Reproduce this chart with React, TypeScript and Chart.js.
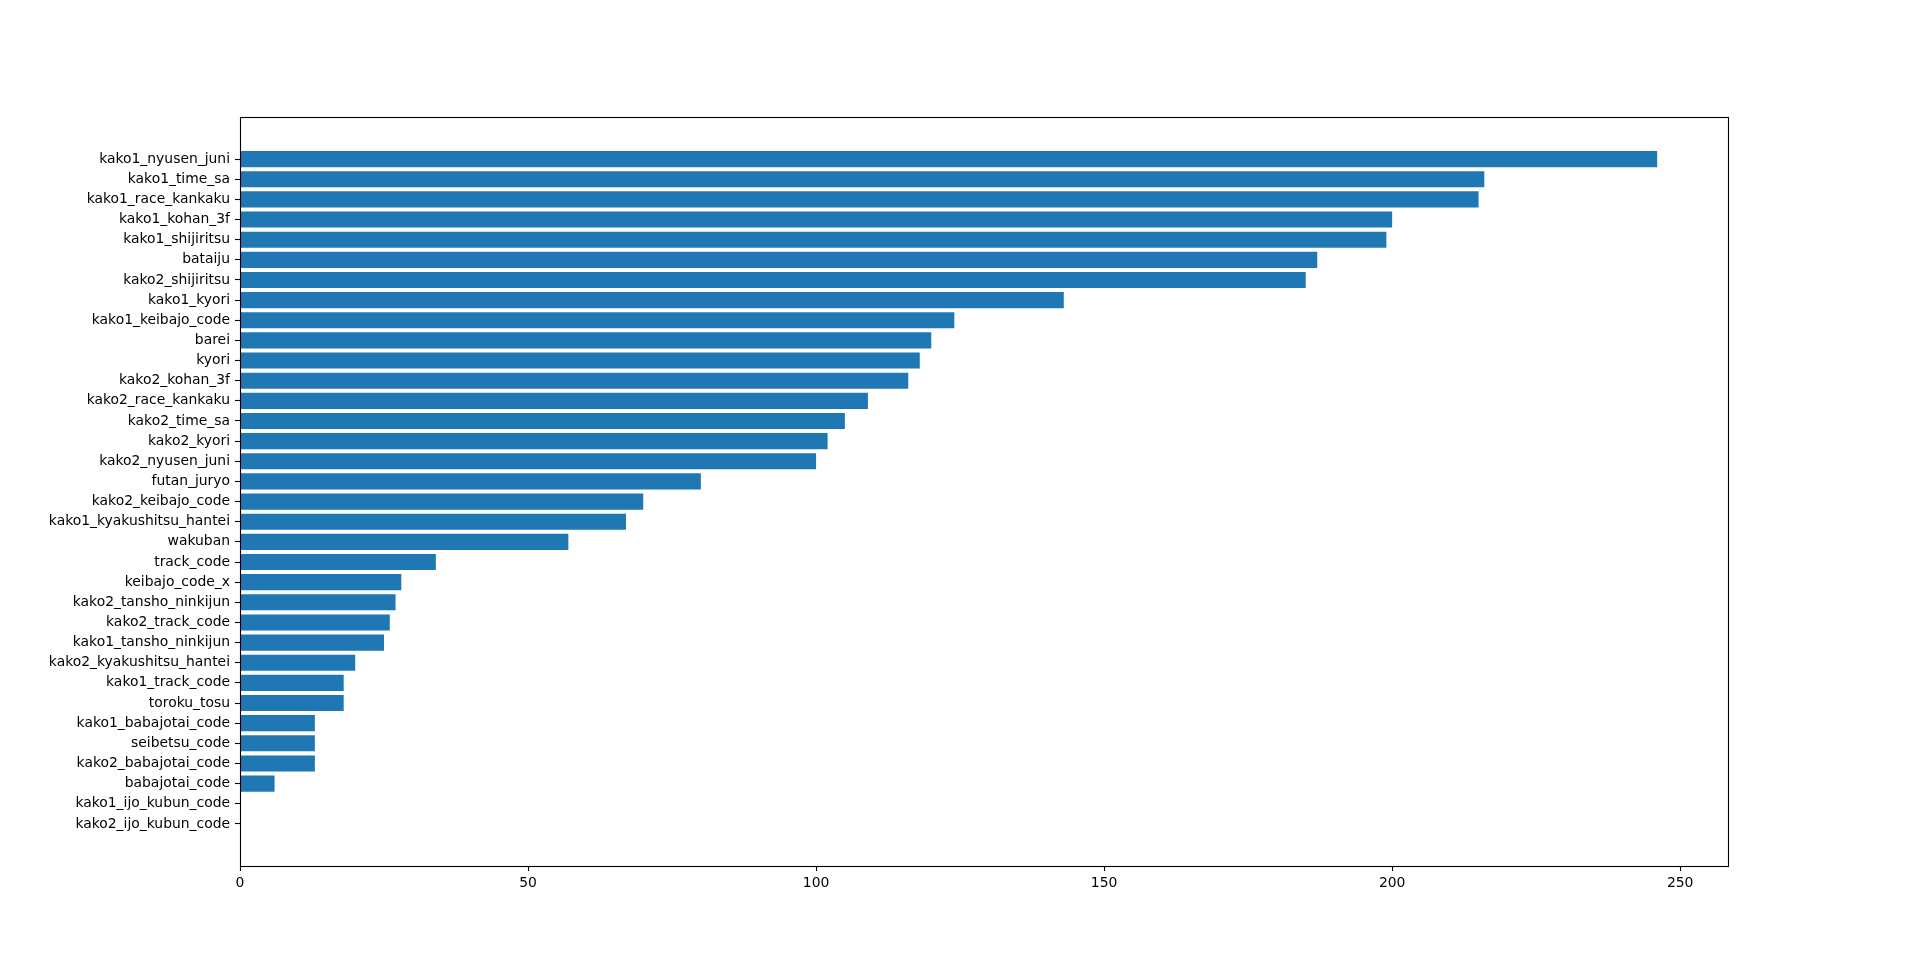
import { useEffect, useRef } from 'react';
import { Chart, registerables } from 'chart.js';

Chart.register(...registerables);

// feature names, top to bottom as shown
const features = [
  'kako1_nyusen_juni',
  'kako1_time_sa',
  'kako1_race_kankaku',
  'kako1_kohan_3f',
  'kako1_shijiritsu',
  'bataiju',
  'kako2_shijiritsu',
  'kako1_kyori',
  'kako1_keibajo_code',
  'barei',
  'kyori',
  'kako2_kohan_3f',
  'kako2_race_kankaku',
  'kako2_time_sa',
  'kako2_kyori',
  'kako2_nyusen_juni',
  'futan_juryo',
  'kako2_keibajo_code',
  'kako1_kyakushitsu_hantei',
  'wakuban',
  'track_code',
  'keibajo_code_x',
  'kako2_tansho_ninkijun',
  'kako2_track_code',
  'kako1_tansho_ninkijun',
  'kako2_kyakushitsu_hantei',
  'kako1_track_code',
  'toroku_tosu',
  'kako1_babajotai_code',
  'seibetsu_code',
  'kako2_babajotai_code',
  'babajotai_code',
  'kako1_ijo_kubun_code',
  'kako2_ijo_kubun_code',
];

const importance = [
  246, 216, 215, 200, 199, 187, 185, 143, 124, 120, 118, 116, 109, 105, 102, 100,
  80, 70, 67, 57, 34, 28, 27, 26, 25, 20, 18, 18, 13, 13, 13, 6, 0, 0,
];

const xTicks = [0, 50, 100, 150, 200, 250];

const FONT = { family: '"DejaVu Sans", sans-serif', size: 13.9 };

// matplotlib-like box around the plot area
const spines = {
  id: 'spines',
  afterDraw(chart: Chart) {
    const { ctx, chartArea } = chart;
    const l = Math.round(chartArea.left) + 0.5;
    const t = Math.round(chartArea.top) + 0.5;
    const r = Math.round(chartArea.right) + 0.5;
    const b = Math.round(chartArea.bottom) + 0.5;
    ctx.save();
    ctx.strokeStyle = '#000';
    ctx.lineWidth = 1.1;
    ctx.strokeRect(l, t, r - l, b - t);
    ctx.restore();
  },
};

export default function App() {
  const canvasRef = useRef<HTMLCanvasElement>(null);

  useEffect(() => {
    document.body.style.margin = '0';
    if (!canvasRef.current) return;

    const n = features.length;
    const pad = (n - 1 + 0.8) * 0.05;
    const xMax = Math.max(...importance) * 1.05;

    const chart = new Chart(canvasRef.current, {
      type: 'bar',
      data: {
        datasets: [{
          data: importance.map((v, i) => ({ x: v, y: i })),
          backgroundColor: '#1f77b4',
          borderWidth: 0,
          barPercentage: 0.8,
          categoryPercentage: 1,
        }],
      },
      options: {
        indexAxis: 'y',
        animation: false,
        responsive: true,
        maintainAspectRatio: false,
        layout: { padding: { top: 117, right: 192, left: 0, bottom: 0 } },
        plugins: {
          legend: { display: false },
          tooltip: { enabled: false },
        },
        scales: {
          y: {
            type: 'linear',
            reverse: true,
            offset: false,
            min: -0.4 - pad,
            max: n - 1 + 0.4 + pad,
            afterFit: (scale) => { scale.width = 240; },
            afterBuildTicks: (scale) => {
              scale.ticks = features.map((_, i) => ({ value: i }));
            },
            grid: { offset: false, drawOnChartArea: false, drawTicks: true, tickLength: 5, tickColor: '#000', tickWidth: 1.1 },
            border: { display: false },
            ticks: {
              autoSkip: false,
              padding: 5,
              color: '#000',
              font: FONT,
              callback: (value) => features[Number(value)] ?? '',
            },
          },
          x: {
            type: 'linear',
            min: 0,
            max: xMax,
            afterFit: (scale) => { scale.height = 107; },
            afterBuildTicks: (scale) => {
              scale.ticks = xTicks.map((v) => ({ value: v }));
            },
            grid: { drawOnChartArea: false, drawTicks: true, tickLength: 5, tickColor: '#000', tickWidth: 1.1 },
            border: { display: false },
            ticks: {
              autoSkip: false,
              padding: 4,
              color: '#000',
              maxRotation: 0,
              font: FONT,
            },
          },
        },
      },
      plugins: [spines],
    });

    return () => {
      chart.destroy();
    };
  }, []);

  return (
    <div style={{ width: 1920, height: 973, position: 'relative', background: '#fff' }}>
      <canvas ref={canvasRef} />
    </div>
  );
}
